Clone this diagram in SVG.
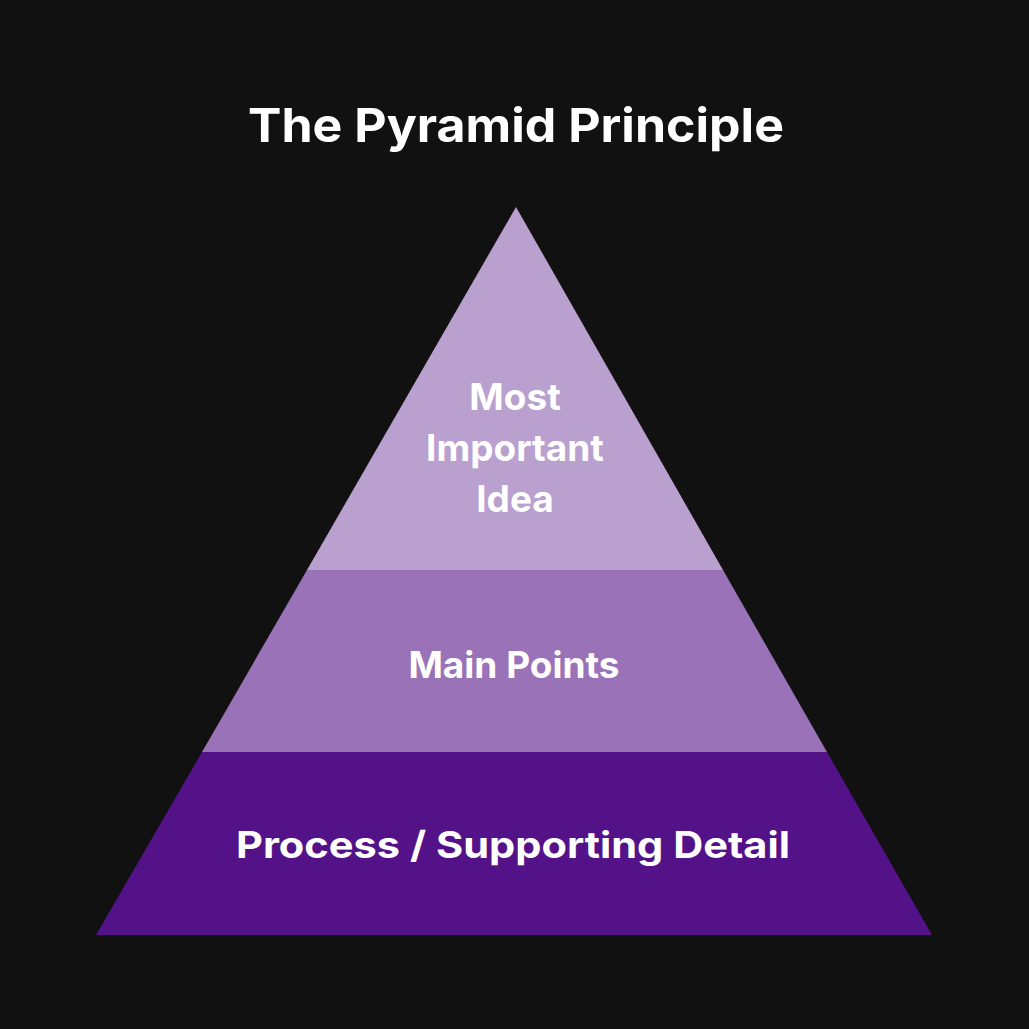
<svg xmlns="http://www.w3.org/2000/svg" width="1029" height="1029" viewBox="0 0 1029 1029">
<style>
.t{font-family:Inter,Lato,"Liberation Sans",sans-serif;font-weight:bold;fill:#fff;text-anchor:middle}
.l{font-size:37px}
</style>
<rect width="1029" height="1029" fill="#111111"/>
<text class="t" x="516" y="142" font-size="47" textLength="536" lengthAdjust="spacingAndGlyphs">The Pyramid Principle</text>
<g id="top"><polygon points="516,207 307,570 723,570" fill="#b9a0cf"/>
<text class="t l" x="515" y="410">Most</text><text class="t l" x="515" y="461">Important</text><text class="t l" x="515" y="512">Idea</text></g>
<g id="middle"><polygon points="307,570 723,570 827,752 202,752" fill="#9a72b7"/>
<text class="t l" x="514" y="678">Main Points</text></g>
<g id="bottom"><polygon points="202,752 827,752 932,935 96,935" fill="#541289"/>
<text class="t l" x="513" y="858" textLength="554" lengthAdjust="spacingAndGlyphs">Process / Supporting Detail</text></g>
<g id="connectors"/>
</svg>
